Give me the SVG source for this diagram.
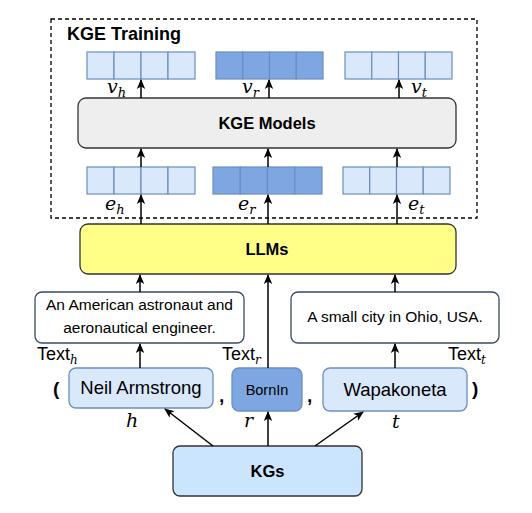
<svg xmlns="http://www.w3.org/2000/svg" width="532" height="513" viewBox="0 0 532 513">
<defs>
<marker id="arr" markerUnits="userSpaceOnUse" markerWidth="10" markerHeight="10" viewBox="0 0 10 10" refX="9" refY="5" orient="auto">
<path d="M0,0.8 L10,5 L0,9.2 L2.5,5 z" fill="#000"/>
</marker>
</defs>
<style>
.cl{fill:#dae8fc;stroke:#6c8ebf;stroke-width:1.2}
.cd{fill:#7ea6e0;stroke:#6c8ebf;stroke-width:1.2}
.box{stroke:#333;stroke-width:1.3}
.sans{font-family:"Liberation Sans",Arial,sans-serif;fill:#000}
.b{font-weight:bold}
.m{font-family:"DejaVu Serif","Liberation Serif",serif;font-style:italic;font-size:19px;fill:#000}
.ms{font-size:13px}
.con line{stroke:#000;stroke-width:1.5;marker-end:url(#arr)}
</style>
<rect width="532" height="513" fill="#fff"/>

<g id="kge-training">
<rect x="51" y="19" width="426" height="199" fill="none" stroke="#000" stroke-width="1.3" stroke-dasharray="4,3"/>
<text x="67" y="40" class="sans b" font-size="18">KGE Training</text>
</g>

<g id="vec-vh">
<rect class="cl" x="87" y="52" width="27" height="27"/><rect class="cl" x="114" y="52" width="27" height="27"/><rect class="cl" x="141" y="52" width="27" height="27"/><rect class="cl" x="168" y="52" width="27" height="27"/>
<text x="107" y="93" class="m">v<tspan class="ms" dy="4">h</tspan></text>
</g>
<g id="vec-vr">
<rect class="cd" x="216" y="52" width="26.75" height="27"/><rect class="cd" x="242.75" y="52" width="26.75" height="27"/><rect class="cd" x="269.5" y="52" width="26.75" height="27"/><rect class="cd" x="296.25" y="52" width="26.75" height="27"/>
<text x="242" y="93" class="m">v<tspan class="ms" dy="4">r</tspan></text>
</g>
<g id="vec-vt">
<rect class="cl" x="345" y="52" width="26.75" height="27"/><rect class="cl" x="371.75" y="52" width="26.75" height="27"/><rect class="cl" x="398.5" y="52" width="26.75" height="27"/><rect class="cl" x="425.25" y="52" width="26.75" height="27"/>
<text x="411" y="93" class="m">v<tspan class="ms" dy="4">t</tspan></text>
</g>

<g id="kge-models">
<rect class="box" x="78" y="98" width="378" height="50" rx="8" fill="#eeeeee"/>
<text x="267" y="129" class="sans b" font-size="16.5" text-anchor="middle">KGE Models</text>
</g>

<g id="vec-eh">
<rect class="cl" x="87" y="167" width="27" height="27"/><rect class="cl" x="114" y="167" width="27" height="27"/><rect class="cl" x="141" y="167" width="27" height="27"/><rect class="cl" x="168" y="167" width="27" height="27"/>
<text x="105" y="210" class="m">e<tspan class="ms" dy="4">h</tspan></text>
</g>
<g id="vec-er">
<rect class="cd" x="213" y="167" width="27.25" height="27"/><rect class="cd" x="240.25" y="167" width="27.25" height="27"/><rect class="cd" x="267.5" y="167" width="27.25" height="27"/><rect class="cd" x="294.75" y="167" width="27.25" height="27"/>
<text x="238" y="210" class="m">e<tspan class="ms" dy="4">r</tspan></text>
</g>
<g id="vec-et">
<rect class="cl" x="343" y="167" width="26.75" height="27"/><rect class="cl" x="369.75" y="167" width="26.75" height="27"/><rect class="cl" x="396.5" y="167" width="26.75" height="27"/><rect class="cl" x="423.25" y="167" width="26.75" height="27"/>
<text x="408" y="210" class="m">e<tspan class="ms" dy="4">t</tspan></text>
</g>

<g id="llms">
<rect class="box" x="80" y="224" width="376" height="50" rx="8" fill="#ffff88"/>
<text x="267" y="255" class="sans b" font-size="16.5" text-anchor="middle">LLMs</text>
</g>

<g id="text-h">
<rect x="35" y="292" width="209" height="51" rx="7" fill="#fff" stroke="#3a4a66" stroke-width="1.3"/>
<text x="139.5" y="310" class="sans" font-size="15.5" text-anchor="middle">An American astronaut and</text>
<text x="139.5" y="333" class="sans" font-size="15.5" text-anchor="middle">aeronautical engineer.</text>
</g>
<g id="text-t">
<rect x="291" y="292" width="208" height="51" rx="7" fill="#fff" stroke="#3a4a66" stroke-width="1.3"/>
<text x="395" y="322" class="sans" font-size="15.5" text-anchor="middle">A small city in Ohio, USA.</text>
</g>

<g id="labels-text">
<text x="37" y="360" class="sans" font-size="18">Text<tspan font-size="12" font-style="italic" font-family="DejaVu Serif,serif" dy="4">h</tspan></text>
<text x="222" y="360" class="sans" font-size="18">Text<tspan font-size="12" font-style="italic" font-family="DejaVu Serif,serif" dy="4">r</tspan></text>
<text x="448" y="360" class="sans" font-size="18">Text<tspan font-size="12" font-style="italic" font-family="DejaVu Serif,serif" dy="4">t</tspan></text>
</g>

<g id="triple-punct">
<text x="53" y="395" class="sans b" font-size="19">(</text>
<text x="219" y="402" class="sans b" font-size="19">,</text>
<text x="307" y="402" class="sans b" font-size="19">,</text>
<text x="472" y="395" class="sans b" font-size="19">)</text>
</g>

<g id="head">
<rect x="69" y="368" width="144" height="40" rx="7" fill="#dae8fc" stroke="#6c8ebf" stroke-width="1.3"/>
<text x="141" y="394" class="sans" font-size="18.5" text-anchor="middle">Neil Armstrong</text>
<text x="126" y="427" class="m">h</text>
</g>
<g id="relation">
<rect x="232" y="368" width="70" height="43" rx="7" fill="#7ea6e0" stroke="#6c8ebf" stroke-width="1.3"/>
<text x="267" y="395" class="sans" font-size="14.5" text-anchor="middle">BornIn</text>
<text x="244" y="427" class="m">r</text>
</g>
<g id="tail">
<rect x="323" y="368" width="144" height="43" rx="7" fill="#dae8fc" stroke="#6c8ebf" stroke-width="1.3"/>
<text x="395" y="396" class="sans" font-size="18.5" text-anchor="middle">Wapakoneta</text>
<text x="392" y="428" class="m">t</text>
</g>

<g id="kgs">
<rect class="box" x="173" y="446" width="189" height="50" rx="7" fill="#cce5ff"/>
<text x="267.5" y="477" class="sans b" font-size="16.5" text-anchor="middle">KGs</text>
</g>

<g class="con" id="connectors">
<line x1="213" y1="446" x2="165" y2="409"/>
<line x1="268" y1="446" x2="268" y2="412"/>
<line x1="315" y1="446" x2="363" y2="412"/>
<line x1="140" y1="368" x2="140" y2="344"/>
<line x1="395" y1="368" x2="395" y2="344"/>
<line x1="268" y1="368" x2="268" y2="275"/>
<line x1="140" y1="292" x2="140" y2="275"/>
<line x1="395" y1="292" x2="395" y2="275"/>
<line x1="141" y1="224" x2="141" y2="195"/>
<line x1="268" y1="224" x2="268" y2="195"/>
<line x1="397" y1="224" x2="397" y2="195"/>
<line x1="141" y1="167" x2="141" y2="149"/>
<line x1="268" y1="167" x2="268" y2="149"/>
<line x1="397" y1="167" x2="397" y2="149"/>
<line x1="141" y1="98" x2="141" y2="80"/>
<line x1="269" y1="98" x2="269" y2="80"/>
<line x1="399" y1="98" x2="399" y2="80"/>
</g>
</svg>
